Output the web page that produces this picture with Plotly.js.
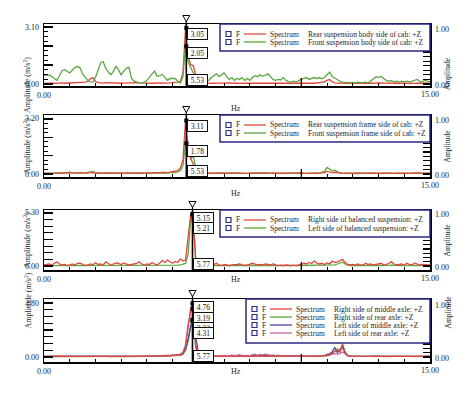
<!DOCTYPE html>
<html><head><meta charset="utf-8">
<script src="https://cdn.plot.ly/plotly-3.0.1.min.js"></script>
<style>body{margin:0;background:#fff}#chart{width:474px;height:398px}</style>
</head><body><div id="chart"></div>
<script>
// ---------------- DATA ----------------
const freqStart = 0;      // Hz
const freqStep = 0.1;     // Hz
const freqRange = [0, 15];
const freqAxisLabels = ['0.00', '15.00'];
const xUnit = 'Hz';

// Panel 1 : body side of cab
const rearBodyCab = [
0.03,0.04,0.03,0.05,0.04,0.03,0.05,0.06,0.04,0.05,
0.04,0.06,0.05,0.07,0.08,0.12,0.10,0.15,0.28,0.35,
0.15,0.08,0.06,0.05,0.07,0.06,0.05,0.04,0.06,0.05,
0.04,0.05,0.06,0.05,0.04,0.06,0.08,0.06,0.05,0.04,
0.05,0.06,0.05,0.04,0.06,0.05,0.07,0.06,0.05,0.06,
0.07,0.08,0.10,0.15,0.60,3.05,1.50,1.05,1.00,0.45,
0.15,0.06,0.05,0.04,0.05,0.06,0.04,0.05,0.04,0.05,
0.04,0.05,0.06,0.04,0.05,0.04,0.03,0.05,0.04,0.05,
0.04,0.05,0.04,0.06,0.05,0.04,0.05,0.06,0.05,0.04,
0.05,0.04,0.06,0.05,0.04,0.05,0.04,0.03,0.05,0.04,
0.05,0.04,0.05,0.06,0.05,0.04,0.05,0.06,0.08,0.12,
0.20,0.25,0.12,0.06,0.05,0.04,0.05,0.04,0.03,0.04,
0.05,0.04,0.03,0.04,0.05,0.04,0.03,0.04,0.05,0.06,
0.08,0.06,0.05,0.04,0.05,0.04,0.03,0.04,0.05,0.04,
0.03,0.04,0.05,0.04,0.03,0.04,0.05,0.04,0.03,0.04,
0.03];
const frontBodyCab = [
0.45,0.50,0.48,0.42,0.30,0.20,0.45,0.72,0.78,0.70,
0.60,0.75,0.90,0.95,0.88,0.55,0.35,0.20,0.12,0.10,
0.35,0.75,1.15,1.22,0.85,0.65,0.50,0.70,0.95,0.75,
0.50,0.70,0.85,0.90,0.30,0.15,0.10,0.06,0.05,0.10,
0.20,0.40,0.55,0.70,0.42,0.45,0.52,0.35,0.20,0.30,
0.32,0.30,0.15,0.05,0.40,2.05,1.20,0.90,0.60,0.30,
0.15,0.10,0.10,0.15,0.20,0.35,0.45,0.55,0.40,0.50,
0.60,0.40,0.25,0.35,0.20,0.30,0.25,0.35,0.20,0.30,
0.20,0.35,0.45,0.40,0.50,0.42,0.48,0.55,0.40,0.25,
0.20,0.25,0.22,0.35,0.20,0.12,0.10,0.15,0.10,0.20,
0.25,0.30,0.35,0.25,0.30,0.35,0.30,0.35,0.28,0.35,
0.50,0.65,0.40,0.30,0.20,0.15,0.10,0.08,0.10,0.06,
0.08,0.05,0.10,0.06,0.08,0.10,0.05,0.15,0.30,0.40,
0.35,0.42,0.30,0.20,0.15,0.18,0.12,0.15,0.10,0.15,
0.12,0.15,0.10,0.15,0.20,0.25,0.15,0.10,0.20,0.15,
0.10];

// Panel 2 : frame side of cab
const rearFrameCab = [
0.05,0.04,0.06,0.05,0.04,0.06,0.05,0.07,0.06,0.05,
0.06,0.05,0.07,0.06,0.08,0.06,0.05,0.07,0.08,0.06,
0.05,0.07,0.06,0.05,0.06,0.07,0.05,0.06,0.05,0.07,
0.06,0.05,0.07,0.06,0.05,0.06,0.05,0.07,0.06,0.05,
0.06,0.07,0.05,0.06,0.08,0.07,0.09,0.10,0.08,0.10,
0.12,0.15,0.20,0.35,0.80,3.11,1.60,0.90,0.60,0.25,
0.10,0.06,0.05,0.07,0.06,0.05,0.06,0.05,0.07,0.06,
0.05,0.06,0.05,0.04,0.06,0.05,0.07,0.06,0.05,0.04,
0.05,0.06,0.05,0.07,0.06,0.05,0.04,0.06,0.05,0.06,
0.05,0.04,0.06,0.05,0.04,0.05,0.06,0.05,0.04,0.05,
0.06,0.05,0.04,0.05,0.06,0.05,0.04,0.05,0.06,0.08,
0.15,0.12,0.08,0.10,0.07,0.05,0.04,0.05,0.04,0.05,
0.04,0.05,0.06,0.04,0.05,0.04,0.05,0.04,0.05,0.04,
0.05,0.04,0.05,0.06,0.04,0.05,0.04,0.05,0.04,0.05,
0.04,0.05,0.04,0.05,0.04,0.05,0.06,0.04,0.05,0.04,
0.05];
const frontFrameCab = [
0.03,0.04,0.05,0.04,0.03,0.05,0.04,0.05,0.06,0.05,
0.10,0.06,0.05,0.06,0.04,0.05,0.06,0.08,0.10,0.15,
0.08,0.06,0.05,0.04,0.06,0.05,0.04,0.05,0.06,0.04,
0.05,0.06,0.04,0.05,0.04,0.06,0.05,0.04,0.05,0.06,
0.05,0.04,0.06,0.05,0.04,0.05,0.06,0.05,0.07,0.06,
0.08,0.10,0.12,0.20,0.50,1.78,1.30,0.90,1.05,0.35,
0.12,0.06,0.05,0.04,0.05,0.06,0.05,0.04,0.05,0.06,
0.05,0.04,0.05,0.06,0.05,0.04,0.05,0.06,0.05,0.04,
0.05,0.06,0.08,0.06,0.05,0.07,0.06,0.05,0.04,0.05,
0.06,0.05,0.04,0.05,0.06,0.05,0.04,0.05,0.04,0.06,
0.05,0.04,0.05,0.06,0.05,0.04,0.06,0.05,0.08,0.15,
0.38,0.30,0.18,0.22,0.12,0.06,0.05,0.04,0.05,0.04,
0.05,0.04,0.03,0.05,0.04,0.05,0.04,0.05,0.06,0.04,
0.05,0.04,0.05,0.04,0.06,0.05,0.04,0.05,0.04,0.05,
0.04,0.05,0.04,0.06,0.05,0.04,0.05,0.04,0.05,0.04,
0.04];

// Panel 3 : balanced suspension
const rightBalanced = [
0.10,0.15,0.20,0.10,0.25,0.42,0.20,0.10,0.15,0.05,
0.12,0.20,0.10,0.25,0.28,0.15,0.05,0.10,0.20,0.12,
0.33,0.15,0.20,0.10,0.42,0.25,0.10,0.20,0.30,0.25,
0.15,0.30,0.20,0.10,0.15,0.20,0.25,0.42,0.20,0.10,
0.20,0.15,0.35,0.20,0.10,0.30,0.55,0.35,0.60,0.40,
0.30,0.45,0.35,0.70,0.50,0.60,2.60,5.15,4.00,0.60,
0.20,0.10,0.15,0.05,0.20,0.10,0.15,0.27,0.10,0.05,
0.15,0.10,0.05,0.12,0.10,0.15,0.20,0.10,0.05,0.10,
0.15,0.27,0.20,0.10,0.15,0.10,0.20,0.15,0.10,0.20,
0.10,0.05,0.08,0.05,0.10,0.06,0.05,0.08,0.05,0.10,
0.15,0.27,0.20,0.35,0.25,0.50,0.30,0.20,0.27,0.15,
0.30,0.20,0.50,0.35,0.40,0.55,0.67,0.35,0.15,0.10,
0.15,0.10,0.20,0.12,0.10,0.27,0.15,0.20,0.10,0.15,
0.20,0.27,0.10,0.15,0.25,0.43,0.20,0.10,0.15,0.20,
0.10,0.27,0.15,0.10,0.30,0.20,0.10,0.15,0.10,0.12,
0.10];
const leftBalanced = [
0.03,0.04,0.05,0.03,0.04,0.06,0.04,0.03,0.05,0.04,
0.04,0.05,0.03,0.06,0.05,0.04,0.03,0.05,0.04,0.03,
0.05,0.04,0.06,0.03,0.05,0.04,0.03,0.05,0.06,0.04,
0.03,0.05,0.04,0.03,0.04,0.05,0.04,0.06,0.04,0.03,
0.04,0.05,0.06,0.04,0.05,0.06,0.08,0.07,0.09,0.08,
0.08,0.10,0.09,0.12,0.15,0.25,1.20,4.60,5.21,0.40,
0.10,0.05,0.04,0.03,0.05,0.04,0.05,0.06,0.04,0.03,
0.04,0.05,0.03,0.04,0.05,0.04,0.06,0.04,0.03,0.04,
0.05,0.06,0.05,0.04,0.05,0.04,0.06,0.05,0.04,0.05,
0.04,0.03,0.04,0.03,0.04,0.03,0.04,0.03,0.04,0.05,
0.05,0.06,0.05,0.07,0.06,0.08,0.06,0.05,0.07,0.06,
0.08,0.07,0.10,0.12,0.20,0.30,0.38,0.20,0.08,0.05,
0.04,0.05,0.06,0.04,0.05,0.06,0.05,0.04,0.05,0.04,
0.05,0.06,0.04,0.05,0.06,0.08,0.05,0.04,0.05,0.06,
0.04,0.06,0.05,0.04,0.06,0.05,0.04,0.05,0.04,0.05,
0.04];

// Panel 4 : axles
const rightMiddleAxle = [
0.05,0.06,0.05,0.07,0.06,0.05,0.06,0.07,0.05,0.06,
0.07,0.06,0.05,0.06,0.07,0.06,0.05,0.07,0.06,0.05,
0.06,0.07,0.05,0.06,0.05,0.07,0.06,0.05,0.06,0.07,
0.06,0.05,0.07,0.06,0.05,0.06,0.07,0.06,0.05,0.06,
0.07,0.06,0.08,0.07,0.09,0.08,0.10,0.09,0.12,0.10,
0.12,0.15,0.14,0.20,0.35,0.90,2.60,4.30,4.76,1.00,
0.25,0.10,0.08,0.07,0.06,0.07,0.06,0.05,0.06,0.07,
0.06,0.05,0.06,0.07,0.06,0.05,0.06,0.05,0.07,0.06,
0.07,0.08,0.10,0.08,0.10,0.09,0.08,0.10,0.09,0.08,
0.07,0.09,0.08,0.07,0.06,0.07,0.06,0.05,0.06,0.07,
0.06,0.05,0.06,0.07,0.06,0.05,0.06,0.07,0.08,0.10,
0.12,0.20,0.35,0.45,0.65,0.50,1.15,0.45,0.12,0.08,
0.07,0.06,0.05,0.06,0.05,0.06,0.07,0.05,0.06,0.05,
0.06,0.05,0.06,0.07,0.05,0.06,0.05,0.06,0.05,0.06,
0.05,0.06,0.05,0.06,0.05,0.06,0.05,0.06,0.05,0.06,
0.05];
const rightRearAxle = [
0.04,0.05,0.04,0.05,0.06,0.04,0.05,0.04,0.05,0.06,
0.05,0.04,0.05,0.06,0.05,0.04,0.06,0.05,0.04,0.05,
0.06,0.05,0.04,0.05,0.06,0.04,0.05,0.06,0.05,0.04,
0.05,0.06,0.04,0.05,0.04,0.06,0.05,0.04,0.05,0.06,
0.05,0.06,0.07,0.06,0.08,0.07,0.08,0.09,0.10,0.09,
0.10,0.12,0.13,0.15,0.25,0.60,1.40,2.60,3.19,0.80,
0.20,0.08,0.06,0.05,0.06,0.05,0.04,0.05,0.06,0.05,
0.05,0.04,0.05,0.06,0.05,0.04,0.05,0.06,0.05,0.04,
0.06,0.07,0.08,0.07,0.09,0.08,0.07,0.08,0.07,0.06,
0.07,0.06,0.07,0.06,0.05,0.06,0.05,0.06,0.05,0.06,
0.05,0.06,0.05,0.06,0.05,0.06,0.05,0.06,0.07,0.09,
0.10,0.15,0.30,0.50,0.72,0.45,0.95,0.40,0.10,0.07,
0.06,0.05,0.06,0.05,0.06,0.05,0.04,0.05,0.06,0.05,
0.05,0.04,0.05,0.06,0.05,0.04,0.05,0.06,0.05,0.04,
0.05,0.06,0.05,0.04,0.05,0.06,0.05,0.04,0.05,0.06,
0.05];
const leftMiddleAxle = [
0.06,0.05,0.07,0.06,0.05,0.07,0.06,0.05,0.07,0.06,
0.05,0.07,0.06,0.08,0.06,0.05,0.07,0.06,0.05,0.07,
0.06,0.05,0.07,0.06,0.08,0.06,0.05,0.07,0.06,0.05,
0.07,0.06,0.05,0.07,0.06,0.08,0.06,0.05,0.07,0.06,
0.07,0.08,0.07,0.09,0.08,0.10,0.09,0.11,0.10,0.12,
0.12,0.14,0.16,0.22,0.30,0.70,1.60,2.80,3.32,2.00,
0.30,0.10,0.08,0.07,0.06,0.07,0.08,0.07,0.06,0.08,
0.07,0.06,0.08,0.07,0.10,0.12,0.08,0.07,0.09,0.08,
0.10,0.12,0.15,0.10,0.14,0.12,0.10,0.15,0.12,0.10,
0.12,0.14,0.10,0.08,0.10,0.09,0.08,0.07,0.08,0.07,
0.08,0.07,0.06,0.07,0.08,0.07,0.06,0.07,0.10,0.15,
0.20,0.30,0.45,0.85,0.40,0.70,0.90,0.35,0.12,0.08,
0.07,0.06,0.07,0.06,0.07,0.06,0.05,0.06,0.07,0.06,
0.07,0.06,0.05,0.07,0.06,0.05,0.06,0.07,0.06,0.05,
0.06,0.07,0.06,0.05,0.06,0.07,0.06,0.05,0.06,0.07,
0.06];
const leftRearAxle = [
0.05,0.06,0.05,0.04,0.06,0.05,0.07,0.05,0.06,0.05,
0.06,0.05,0.07,0.06,0.05,0.06,0.05,0.07,0.06,0.05,
0.05,0.06,0.07,0.05,0.06,0.05,0.07,0.06,0.05,0.06,
0.07,0.05,0.06,0.05,0.07,0.06,0.05,0.06,0.07,0.05,
0.06,0.08,0.07,0.09,0.10,0.09,0.12,0.10,0.13,0.12,
0.14,0.16,0.18,0.25,0.45,1.10,2.90,4.00,4.31,0.90,
0.22,0.10,0.08,0.07,0.08,0.07,0.09,0.08,0.10,0.12,
0.15,0.10,0.12,0.18,0.10,0.15,0.20,0.12,0.10,0.15,
0.12,0.18,0.25,0.15,0.22,0.18,0.25,0.20,0.15,0.18,
0.12,0.15,0.10,0.12,0.08,0.10,0.07,0.08,0.07,0.06,
0.07,0.06,0.07,0.06,0.07,0.06,0.07,0.08,0.10,0.12,
0.15,0.20,0.25,0.30,0.25,0.30,0.45,0.25,0.10,0.07,
0.06,0.07,0.06,0.05,0.06,0.07,0.06,0.05,0.06,0.05,
0.06,0.05,0.06,0.05,0.06,0.05,0.06,0.05,0.06,0.05,
0.06,0.05,0.06,0.05,0.06,0.05,0.06,0.05,0.06,0.05,
0.05];

// cursor readouts
const cursorHz = [5.53, 5.53, 5.77, 5.77];
const peaksP1 = [3.05, 2.05];
const peaksP2 = [3.11, 1.78];
const peaksP3 = [5.15, 5.21];
const peaksP4 = [4.76, 3.19, 3.32, 4.31];
const yMaxLabels = [3.10, 3.20, 5.30, 4.80];
const rightAxisLabels = ['0.00', '1.00'];

const namesP1 = ['Rear suspension body side of cab: +Z', 'Front suspension body side of cab: +Z'];
const namesP2 = ['Rear suspension frame side of cab: +Z', 'Front suspension frame side of cab: +Z'];
const namesP3 = ['Right side of balanced suspension: +Z', 'Left side of balanced suspension: +Z'];
const namesP4 = ['Right side of middle axle: +Z', 'Right side of rear axle: +Z', 'Left side of middle axle: +Z', 'Left side of rear axle: +Z'];
const leftTitle = 'Amplitude (m/s<sup>2</sup>)';
const rightTitle = 'Amplitude';

// ---------------- STYLE / LAYOUT ----------------
const W = 474, H = 398;
const plotL = 44, plotR = 430;
const FONT = 'Liberation Serif, Times New Roman, serif';
const TXT = '#1e1e1e';
const NAVY = '#2b2a86';
const RED = '#e0473a', GREEN = '#5aa83c', BLUE = '#4b4aa8', PINK = '#c468a6';

const panels = [
  {series:[rearBodyCab, frontBodyCab], names:namesP1, peaks:peaksP1, colors:[RED, GREEN], order:[0,1],
   px:{top:24, bot:86, zero:84, max:27, legL:220, legB:51, tops:[28,47.5], nMajor:3, nMinor:4}},
  {series:[rearFrameCab, frontFrameCab], names:namesP2, peaks:peaksP2, colors:[RED, GREEN], order:[1,0],
   px:{top:115, bot:177, zero:174, max:119, legL:220, legB:142, tops:[119.5,145], nMajor:3, nMinor:4}},
  {series:[rightBalanced, leftBalanced], names:namesP3, peaks:peaksP3, colors:[RED, GREEN], order:[1,0],
   px:{top:210, bot:270, zero:266, max:213, legL:220, legB:237, tops:[212,221.5], nMajor:8, nMinor:1}},
  {series:[rightMiddleAxle, rightRearAxle, leftMiddleAxle, leftRearAxle], names:namesP4, peaks:peaksP4,
   colors:[RED, GREEN, BLUE, PINK], order:[1,2,3,0],
   px:{top:299, bot:362, zero:357, max:303, legL:246, legB:343, tops:[301,311.5,322,326.5], nMajor:8, nMinor:1}}
];

const traces = [], shapes = [], annotations = [];
const layout = {
  width: W, height: H, margin:{l:0, r:0, t:0, b:0},
  paper_bgcolor:'#fff', plot_bgcolor:'#fff', showlegend:false,
  font:{family:FONT, size:8, color:TXT}
};
const py = v => 1 - v / H;
const pxX = v => v / W;
const lblFont = {family:FONT, size:8, color:TXT};
const txt = (o) => { annotations.push(Object.assign({showarrow:false, font:lblFont}, o)); };

panels.forEach((p, i) => {
  const n = i + 1;
  const xa = n === 1 ? 'x' : 'x' + n;
  const ya = n === 1 ? 'y' : 'y' + n;
  const yr = 'y' + (n + 4);
  const g = p.px;
  const ymax = yMaxLabels[i];
  const scale = (g.zero - g.max) / ymax;
  const lo = -(g.bot - g.zero) / scale;
  const hi = ymax + (g.max - g.top) / scale;
  const dom = [py(g.bot), py(g.top)];

  // x axis (ticks every 1 Hz, labels drawn as annotations at the range ends)
  layout['xaxis' + (n === 1 ? '' : n)] = {
    domain:[pxX(plotL), pxX(plotR)], range:freqRange, anchor:ya,
    tickmode:'linear', tick0:0, dtick:1, ticks:'inside', ticklen:3, tickwidth:1, tickcolor:'#000', showticklabels:false,
    showline:true, mirror:true, linecolor:'#000', linewidth:1.5, showgrid:false, zeroline:false, fixedrange:true
  };
  txt({xref:xa, x:freqRange[0], yref:'paper', y:py(g.bot + 3), yanchor:'top', xanchor:'center', text:freqAxisLabels[0]});
  txt({xref:xa, x:freqRange[1], yref:'paper', y:py(g.bot + 2), yanchor:'top', xanchor:'center', text:freqAxisLabels[1]});

  // left y axis
  const yt = [], ym = [];
  for (let k = 0; k <= g.nMajor; k++) yt.push(ymax * k / g.nMajor);
  if (g.nMinor > 1) for (let k = 0; k <= g.nMajor * g.nMinor; k++) if (k % g.nMinor) ym.push(ymax * k / (g.nMajor * g.nMinor));
  const yax = {
    domain:dom, range:[lo, hi], anchor:xa,
    tickmode:'array', tickvals:yt, ticks:'inside', ticklen:9, tickwidth:1.2, tickcolor:'#000', showticklabels:false,
    showline:true, mirror:true, linecolor:'#000', linewidth:1.5, showgrid:false, zeroline:false, fixedrange:true
  };
  if (ym.length) yax.minor = {tickmode:'array', tickvals:ym, ticks:'inside', ticklen:4, tickcolor:'#000', tickwidth:1, showgrid:false};
  layout['yaxis' + (n === 1 ? '' : n)] = yax;
  txt({xref:'paper', x:pxX(plotL - 3), xanchor:'right', yref:ya, y:0, yanchor:'middle', text:(0).toFixed(2)});
  txt({xref:'paper', x:pxX(plotL - 3), xanchor:'right', yref:ya, y:ymax, yanchor:'middle', text:ymax.toFixed(2)});

  // right y axis
  layout['yaxis' + (n + 4)] = {
    overlaying:ya, side:'right', anchor:xa, range:[lo / ymax, hi / ymax],
    tickmode:'array', tickvals:[0, 0.08, 0.16, 0.24, 0.32, 0.40, 0.48, 0.56, 1],
    ticks:'inside', ticklen:7, tickwidth:1.2, tickcolor:'#000', showticklabels:false,
    showline:false, showgrid:false, zeroline:false, fixedrange:true
  };
  traces.push({x:[0], y:[0], xaxis:xa, yaxis:yr, mode:'markers', marker:{opacity:0}, hoverinfo:'skip'});
  txt({xref:'paper', x:pxX(plotR + 3), xanchor:'left', yref:yr, y:0, yanchor:'middle', yshift:-1, text:rightAxisLabels[0]});
  txt({xref:'paper', x:pxX(plotR + 3), xanchor:'left', yref:yr, y:1, yanchor:'middle', yshift:-2, text:rightAxisLabels[1]});

  // spectra
  p.order.forEach(s => {
    traces.push({x0:freqStart, dx:freqStep, y:p.series[s], xaxis:xa, yaxis:ya, mode:'lines',
      line:{color:p.colors[s], width:1.3}, hoverinfo:'skip'});
  });

  // cursor line + triangle
  const c = cursorHz[i];
  shapes.push({type:'line', xref:xa, x0:c, x1:c, yref:'paper', y0:dom[0], y1:dom[1], line:{color:'#000', width:1.6}});
  shapes.push({type:'line', xref:xa, xsizemode:'pixel', xanchor:c, x0:0, x1:0, yref:'paper', ysizemode:'pixel', yanchor:dom[1], y0:0, y1:3, line:{color:'#000', width:1.2}});
  shapes.push({type:'path', xref:xa, xsizemode:'pixel', xanchor:c, yref:'paper', ysizemode:'pixel', yanchor:dom[1],
    path:'M-3.5,8.5 L3.5,8.5 L0,2.5 Z', line:{color:'#000', width:1}, fillcolor:'#fff'});
  // 10 Hz long tick
  shapes.push({type:'line', xref:xa, x0:10, x1:10, yref:'paper', y0:dom[0], y1:py(g.bot - 8), line:{color:'#000', width:1.3}});

  // peak dots
  traces.push({x:p.peaks.map(() => c), y:p.peaks, xaxis:xa, yaxis:ya, mode:'markers', cliponaxis:false,
    marker:{symbol:'square', size:4, color:'#000'}, hoverinfo:'skip'});

  // readout boxes
  const boxFont = {family:FONT, size:7.5, color:'#111'};
  p.peaks.forEach((v, k) => {
    txt({xref:xa, x:c, xanchor:'left', xshift:0.5, yref:'paper', y:py(g.tops[k]), yanchor:'top',
      text:v.toFixed(2), bgcolor:'#fff', bordercolor:'#111', borderwidth:1, borderpad:0.5, width:18, font:boxFont});
  });
  txt({xref:xa, x:c, xanchor:'left', xshift:0.5, yref:'paper', y:dom[0], yanchor:'bottom',
    text:c.toFixed(2), bgcolor:'#fff', bordercolor:'#111', borderwidth:1, borderpad:0.5, width:18, font:boxFont});

  // axis titles / unit
  txt({xref:'paper', yref:'paper', x:pxX(20), y:(dom[0] + dom[1]) / 2, text:leftTitle, textangle:-90});
  txt({xref:'paper', yref:'paper', x:pxX(454), y:(dom[0] + dom[1]) / 2, text:rightTitle, textangle:-90,
    font:{family:FONT, size:7.5, color:TXT}});
  txt({xref:'paper', yref:'paper', x:pxX(236), y:py(g.bot + 16), text:xUnit});

  // legend box
  const L = g.legL;
  const legFont = {family:FONT, size:7.5, color:TXT};
  shapes.push({type:'rect', xref:'paper', yref:'paper', x0:pxX(L), x1:pxX(plotR), y0:py(g.legB), y1:py(g.top),
    line:{color:NAVY, width:1.5}, fillcolor:'#fff'});
  p.names.forEach((nm, k) => {
    const ry = g.top + 10 + 8 * k;
    shapes.push({type:'rect', xref:'paper', yref:'paper', x0:pxX(L + 6), x1:pxX(L + 11), y0:py(ry + 2.5), y1:py(ry - 2.5),
      line:{color:NAVY, width:1.2}, fillcolor:'rgba(0,0,0,0)'});
    shapes.push({type:'line', xref:'paper', yref:'paper', x0:pxX(L + 24), x1:pxX(L + 46), y0:py(ry), y1:py(ry),
      line:{color:p.colors[k], width:1.3}});
    txt({xref:'paper', yref:'paper', x:pxX(L + 14), y:py(ry), xanchor:'left', yanchor:'middle', text:'F', font:legFont});
    txt({xref:'paper', yref:'paper', x:pxX(L + 48), y:py(ry), xanchor:'left', yanchor:'middle', text:'Spectrum', font:legFont});
    txt({xref:'paper', yref:'paper', x:pxX(L + 86), y:py(ry), xanchor:'left', yanchor:'middle', text:nm, font:legFont});
  });
});

layout.shapes = shapes;
layout.annotations = annotations;
Plotly.newPlot('chart', traces, layout, {staticPlot:true, displayModeBar:false});
</script>
</body></html>
